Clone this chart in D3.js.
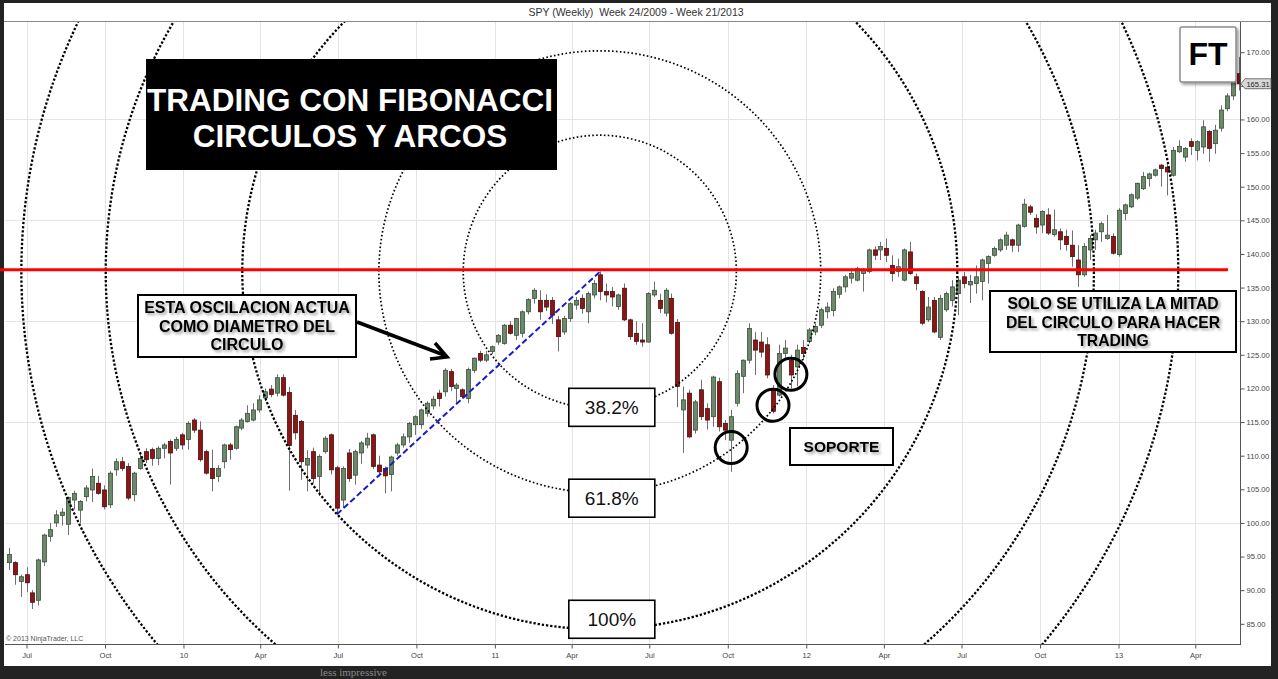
<!DOCTYPE html>
<html>
<head>
<meta charset="utf-8">
<script src="https://cdn.jsdelivr.net/npm/d3@7"></script>
<style>
  html, body { margin: 0; padding: 0; background: #222; }
  svg { display: block; font-family: "Liberation Sans", Arial, sans-serif; }
</style>
</head>
<body>
<script>
// SPY semanal, semana 24/2009 - semana 21/2013
const firstWeek = new Date(2009, 5, 10);
const lastWeek = new Date(2013, 4, 22);

const open = [
  94.1, 94.1, 91.3, 92.3, 89.6, 88.5, 94.2, 98.0, 100.0, 101.1,
  99.8, 103.4, 101.9, 103.9, 104.9, 105.9, 104.9, 102.7, 107.9, 109.1,
  108.4, 104.2, 108.1, 110.6, 110.9, 109.6, 111.1, 112.1, 111.1, 113.1,
  112.4, 115.3, 113.8, 110.6, 108.1, 106.9, 109.1, 111.6, 111.1, 114.1,
  115.1, 115.3, 116.8, 118.6, 119.9, 119.3, 121.6, 119.4, 116.0, 115.1,
  108.6, 110.6, 106.9, 110.6, 113.1, 108.2, 103.4, 110.4, 107.1, 110.4,
  111.6, 113.1, 108.6, 108.1, 107.2, 110.4, 111.6, 112.8, 114.6, 114.6,
  116.3, 117.4, 119.3, 119.5, 122.5, 120.0, 119.8, 118.5, 122.7, 125.2,
  124.2, 125.5, 126.9, 126.7, 129.4, 127.9, 128.2, 131.4, 133.4, 133.1,
  133.1, 133.1, 130.2, 128.4, 130.4, 132.4, 133.4, 131.4, 133.9, 136.9,
  134.4, 134.4, 132.2, 134.9, 130.2, 128.2, 127.2, 126.9, 133.9, 133.1,
  131.2, 133.4, 129.8, 116.8, 119.3, 113.8, 119.8, 117.0, 115.8, 121.0,
  114.8, 112.3, 117.8, 121.8, 124.2, 127.2, 126.9, 126.5, 119.8, 119.0,
  125.2, 124.2, 123.2, 126.1, 127.0, 128.4, 129.4, 131.4, 131.6, 134.0,
  135.1, 136.4, 136.1, 137.1, 137.4, 140.6, 140.6, 140.8, 138.3, 137.4,
  136.1, 140.3, 136.6, 134.4, 130.2, 133.1, 127.6, 131.7, 133.1, 134.1,
  136.6, 135.4, 135.6, 135.9, 138.6, 139.8, 140.6, 141.3, 142.1, 141.3,
  144.1, 147.0, 145.3, 144.3, 145.8, 142.9, 143.3, 142.6, 141.3, 139.1,
  136.9, 140.6, 142.1, 143.3, 142.3, 142.6, 139.9, 146.0, 147.0, 148.3,
  149.7, 151.2, 151.7, 153.2, 152.9, 151.7, 155.2, 154.4, 156.7, 155.4,
  155.9, 158.2, 156.4, 158.7, 161.6, 163.5, 166.8
];
const high = [
  96.3, 94.3, 92.3, 93.4, 90.0, 94.7, 98.4, 100.0, 101.9, 102.2,
  103.9, 104.8, 103.4, 105.6, 108.1, 107.0, 105.6, 107.7, 109.6, 109.8,
  108.9, 107.6, 110.5, 111.1, 111.2, 111.4, 111.9, 112.4, 112.8, 113.4,
  115.1, 115.6, 115.1, 110.9, 110.9, 108.6, 111.8, 111.9, 114.5, 115.6,
  117.5, 117.8, 119.0, 120.0, 120.5, 122.1, 122.1, 120.2, 116.8, 115.3,
  110.8, 111.2, 110.2, 112.9, 113.3, 108.5, 108.4, 111.0, 110.9, 112.2,
  113.4, 113.3, 110.0, 108.4, 110.0, 111.9, 113.3, 115.0, 116.0, 117.0,
  118.1, 118.9, 119.8, 123.0, 122.9, 120.8, 120.0, 123.1, 124.6, 125.6,
  125.6, 126.4, 128.1, 129.6, 130.0, 130.5, 131.6, 133.4, 134.9, 134.6,
  134.0, 133.6, 130.8, 130.8, 132.8, 133.6, 134.0, 134.4, 136.1, 137.4,
  135.6, 135.1, 134.1, 135.6, 130.4, 130.0, 129.7, 134.3, 135.9, 134.1,
  134.9, 134.1, 130.3, 120.3, 119.8, 118.3, 121.3, 117.8, 121.9, 121.6,
  115.3, 116.8, 122.7, 124.3, 129.7, 128.4, 128.4, 127.6, 120.5, 126.5,
  127.2, 125.0, 126.5, 127.2, 129.0, 129.6, 132.0, 132.8, 134.9, 135.3,
  136.9, 137.6, 138.1, 137.9, 140.8, 141.1, 141.8, 142.3, 139.8, 139.3,
  140.8, 141.8, 137.1, 134.6, 133.6, 133.6, 133.9, 134.4, 136.1, 136.6,
  137.3, 136.9, 138.3, 139.3, 139.8, 141.1, 142.3, 143.3, 142.3, 144.5,
  148.2, 147.3, 145.9, 146.5, 146.8, 146.6, 143.8, 143.6, 143.5, 141.3,
  141.6, 142.8, 143.6, 144.8, 145.8, 143.1, 146.8, 147.5, 149.0, 150.6,
  152.2, 152.1, 152.7, 153.4, 153.3, 155.9, 156.9, 155.9, 157.2, 156.9,
  159.9, 158.4, 159.2, 162.1, 163.9, 166.4, 169.3
];
const low = [
  93.0, 90.8, 89.0, 89.7, 87.2, 87.7, 93.6, 97.2, 99.4, 99.6,
  98.2, 102.0, 100.0, 103.2, 103.1, 104.2, 102.0, 102.2, 107.0, 107.7,
  103.4, 103.2, 107.9, 108.9, 108.5, 108.6, 109.6, 105.7, 110.7, 110.9,
  110.9, 113.4, 109.1, 107.2, 104.7, 106.1, 108.1, 109.4, 110.9, 113.8,
  114.9, 115.1, 116.4, 118.1, 118.7, 118.8, 118.8, 104.8, 112.4, 106.4,
  104.7, 105.9, 104.0, 110.3, 107.2, 101.4, 102.2, 106.1, 105.7, 108.8,
  111.1, 108.0, 106.9, 104.4, 104.7, 110.0, 111.2, 111.9, 113.1, 114.0,
  115.8, 116.9, 117.3, 118.8, 119.6, 117.8, 118.5, 117.8, 122.3, 123.9,
  123.9, 125.1, 126.5, 126.5, 128.0, 127.2, 127.6, 131.0, 132.6, 130.2,
  131.5, 129.6, 125.5, 128.0, 129.9, 131.7, 131.1, 129.7, 133.4, 133.1,
  132.8, 132.2, 131.7, 130.0, 127.2, 126.5, 126.2, 126.8, 133.6, 131.2,
  130.7, 128.0, 117.2, 110.4, 112.6, 113.3, 115.3, 113.9, 114.3, 113.6,
  112.3, 107.6, 117.3, 119.3, 123.7, 122.0, 124.6, 121.5, 116.3, 118.8,
  124.2, 120.0, 120.3, 124.2, 126.7, 127.9, 129.0, 130.4, 130.7, 133.4,
  134.3, 135.6, 135.9, 134.4, 137.1, 139.1, 139.1, 138.8, 135.9, 136.6,
  135.9, 136.9, 134.6, 129.4, 129.9, 128.2, 127.2, 131.4, 132.2, 130.9,
  134.9, 132.7, 134.1, 133.1, 135.6, 139.6, 140.3, 140.6, 140.3, 140.3,
  143.9, 145.8, 143.0, 143.1, 142.8, 142.6, 140.6, 140.5, 138.1, 135.1,
  136.6, 139.1, 140.6, 141.8, 142.1, 139.9, 139.6, 145.0, 146.8, 148.0,
  149.5, 150.0, 151.5, 150.0, 148.7, 151.5, 155.0, 153.7, 154.7, 153.9,
  154.9, 153.7, 154.9, 158.2, 161.2, 162.9, 164.3
];
const close = [
  95.3, 92.3, 92.0, 91.1, 88.2, 94.5, 98.2, 99.0, 101.2, 101.6,
  103.8, 104.4, 103.2, 105.2, 106.9, 104.4, 102.4, 107.4, 109.1, 108.1,
  103.7, 107.4, 109.6, 109.4, 109.6, 111.1, 111.6, 110.4, 112.4, 111.6,
  114.8, 113.8, 109.4, 107.4, 106.6, 108.1, 111.6, 110.9, 114.3, 115.3,
  116.3, 116.8, 118.3, 119.5, 119.1, 121.6, 119.0, 111.5, 113.4, 109.1,
  109.6, 106.6, 109.9, 112.6, 107.9, 102.2, 108.1, 106.6, 110.6, 111.9,
  112.6, 108.4, 107.6, 107.0, 109.8, 111.6, 112.8, 114.8, 115.8, 116.8,
  117.8, 118.4, 118.5, 122.7, 120.3, 120.5, 118.8, 122.8, 124.5, 124.2,
  125.0, 126.2, 127.9, 129.4, 128.2, 130.4, 131.4, 133.2, 134.6, 131.4,
  132.1, 130.9, 127.7, 130.4, 132.6, 133.1, 131.9, 134.1, 135.6, 134.4,
  133.9, 133.6, 133.9, 130.2, 127.7, 127.0, 126.9, 134.1, 134.6, 131.9,
  134.6, 128.2, 120.3, 118.3, 112.8, 118.0, 115.8, 115.3, 121.7, 114.3,
  113.8, 115.8, 122.2, 124.2, 128.9, 125.7, 125.4, 122.0, 116.6, 125.2,
  126.0, 122.0, 125.7, 125.2, 128.7, 129.2, 131.7, 132.1, 134.4, 135.1,
  136.6, 137.1, 137.8, 137.6, 140.6, 139.8, 141.1, 139.8, 137.1, 138.1,
  140.6, 137.1, 135.6, 129.7, 132.1, 128.4, 133.4, 134.1, 135.1, 136.1,
  135.6, 135.9, 136.6, 139.1, 139.6, 140.8, 142.1, 142.8, 141.3, 144.3,
  147.4, 146.2, 144.0, 146.3, 143.1, 143.6, 142.1, 141.4, 139.6, 136.9,
  141.1, 142.3, 143.1, 144.5, 142.8, 140.1, 146.5, 147.3, 148.8, 150.5,
  151.5, 151.9, 152.5, 152.7, 152.2, 155.4, 156.0, 155.7, 156.0, 156.7,
  158.9, 155.7, 158.4, 161.4, 163.5, 166.0, 165.31
];

const yTicks = [85, 90, 95, 100, 105, 110, 115, 120, 125, 130, 135, 140, 145, 150, 155, 160, 165, 170];
const yGrid = [100, 115, 130, 145, 160];
const xTickLabels = ["Jul", "Oct", "10", "Apr", "Jul", "Oct", "11", "Apr", "Jul", "Oct", "12", "Apr", "Jul", "Oct", "13", "Apr"];

// oscilacion usada para los circulos (indice de semana, precio)
const swingLow = { i: 55, price: 101.3 };
const swingHigh = { i: 99, price: 137.35 };
const fibLevels = [0.382, 0.618, 1, 1.382, 1.618];
const fibLabels = ["38.2%", "61.8%", "100%"];
const resistance = 137.65;
const lastPrice = 165.31;
const supportPoints = [
  { i: 121, price: 111.2 },
  { i: 128, price: 117.5 },
  { i: 131, price: 122.1 }
];

const W = 1278, H = 679;
const plot = { left: 5, right: 1240, top: 22, bottom: 644 };

const dates = d3.timeWednesday.range(firstWeek, d3.timeDay.offset(lastWeek, 1));
const candles = dates.map((d, i) => ({ date: d, o: open[i], h: high[i], l: low[i], c: close[i] }));

const x = d3.scaleTime()
  .domain([new Date(2009, 6, 1), new Date(2013, 3, 1)])
  .range([26.5, 1195.3]);
const y = d3.scaleLinear().domain([85, 170]).range([623.8, 52.2]);

const xTickDates = d3.timeMonth.every(3).range(new Date(2009, 6, 1), new Date(2013, 3, 2));

const svg = d3.select("body").append("svg")
  .attr("width", W).attr("height", H);

const defs = svg.append("defs");
defs.append("clipPath").attr("id", "plotclip")
  .append("rect")
  .attr("x", plot.left).attr("y", plot.top)
  .attr("width", plot.right - plot.left).attr("height", plot.bottom - plot.top);

const shadow = defs.append("filter").attr("id", "tshadow")
  .attr("x", "-10%").attr("y", "-40%").attr("width", "125%").attr("height", "190%");
shadow.append("feGaussianBlur").attr("in", "SourceAlpha").attr("stdDeviation", 1.6);
shadow.append("feOffset").attr("dx", 1.5).attr("dy", 2).attr("result", "off");
shadow.append("feComponentTransfer").attr("in", "off").attr("result", "soft")
  .append("feFuncA").attr("type", "linear").attr("slope", 0.4);
const merge = shadow.append("feMerge");
merge.append("feMergeNode").attr("in", "soft");
merge.append("feMergeNode").attr("in", "SourceGraphic");

// fondo oscuro + panel blanco
svg.append("rect").attr("width", W).attr("height", H).attr("fill", "#232323");
svg.append("rect").attr("x", 4).attr("y", 3).attr("width", 1267).attr("height", 663).attr("fill", "#fff");

// titulo
svg.append("text")
  .attr("x", 636).attr("y", 16)
  .attr("text-anchor", "middle")
  .attr("font-size", 10.5).attr("fill", "#333")
  .text("SPY (Weekly)\u00a0 Week 24/2009 - Week 21/2013");
svg.append("line")
  .attr("x1", 4).attr("x2", 1271).attr("y1", 21.5).attr("y2", 21.5)
  .attr("stroke", "#8a8a8a");

// rejilla
const grid = svg.append("g").attr("stroke", "#e4e4e4").attr("stroke-width", 1);
grid.selectAll(".vg").data(xTickDates).enter().append("line")
  .attr("x1", d => Math.round(x(d)) + 0.5).attr("x2", d => Math.round(x(d)) + 0.5)
  .attr("y1", plot.top).attr("y2", plot.bottom);
grid.selectAll(".hg").data(yGrid).enter().append("line")
  .attr("x1", plot.left).attr("x2", plot.right)
  .attr("y1", d => Math.round(y(d)) + 0.5).attr("y2", d => Math.round(y(d)) + 0.5);

// velas
const cg = svg.append("g").attr("clip-path", "url(#plotclip)");
const bw = 4;
cg.selectAll(".wick").data(candles).enter().append("line")
  .attr("x1", d => Math.round(x(d.date)) + 0.5)
  .attr("x2", d => Math.round(x(d.date)) + 0.5)
  .attr("y1", d => y(d.h)).attr("y2", d => y(d.l))
  .attr("stroke", "#6f6f6f").attr("stroke-width", 1);
cg.selectAll(".body").data(candles).enter().append("rect")
  .attr("x", d => Math.round(x(d.date)) - bw / 2 + 0.5)
  .attr("y", d => y(Math.max(d.o, d.c)))
  .attr("width", bw)
  .attr("height", d => Math.max(1, Math.abs(y(d.o) - y(d.c))))
  .attr("fill", d => d.c >= d.o ? "#6a8a6a" : "#8a1717")
  .attr("stroke", d => d.c >= d.o ? "#3c4c3c" : "#4c0d0d")
  .attr("stroke-width", 0.8);

// circulos de Fibonacci
const cx = x(dates[swingHigh.i]), cy = y(swingHigh.price);
const lx = x(dates[swingLow.i]), ly = y(swingLow.price);
const r100 = Math.hypot(cx - lx, cy - ly);
const fg = svg.append("g").attr("clip-path", "url(#plotclip)").attr("fill", "none");
fg.selectAll("circle").data(fibLevels).enter().append("circle")
  .attr("cx", cx).attr("cy", cy)
  .attr("r", d => r100 * d)
  .attr("stroke", "#000")
  .attr("stroke-width", d => d < 1 ? 1.7 : 2.3)
  .attr("stroke-dasharray", d => d < 1 ? "1.6,2.3" : "2.3,1.9");

// linea de oscilacion (diametro)
svg.append("line")
  .attr("x1", lx).attr("y1", ly).attr("x2", cx).attr("y2", cy)
  .attr("stroke", "#1a1acc").attr("stroke-width", 2)
  .attr("stroke-dasharray", "6,3");

// resistencia
svg.append("line")
  .attr("x1", 0).attr("x2", 1228)
  .attr("y1", y(resistance)).attr("y2", y(resistance))
  .attr("stroke", "#ff0000").attr("stroke-width", 3);

// ejes
svg.append("line")
  .attr("x1", plot.right + 0.5).attr("x2", plot.right + 0.5)
  .attr("y1", plot.top).attr("y2", plot.bottom)
  .attr("stroke", "#555");
svg.append("line")
  .attr("x1", plot.left).attr("x2", plot.right + 1)
  .attr("y1", plot.bottom + 0.5).attr("y2", plot.bottom + 0.5)
  .attr("stroke", "#555");

const yAxis = svg.append("g")
  .attr("transform", `translate(${plot.right + 0.5},0)`)
  .call(d3.axisRight(y).tickValues(yTicks).tickFormat(d3.format(".2f")).tickSize(4).tickPadding(2));
yAxis.select(".domain").remove();
yAxis.selectAll("line").attr("stroke", "#555");
yAxis.selectAll("text").attr("font-size", 7.6).attr("fill", "#444")
  .attr("font-family", "Liberation Sans, Arial, sans-serif");

const xAxis = svg.append("g")
  .attr("transform", `translate(0,${plot.bottom + 0.5})`)
  .call(d3.axisBottom(x).tickValues(xTickDates).tickFormat((d, i) => xTickLabels[i]).tickSize(4).tickPadding(4));
xAxis.select(".domain").remove();
xAxis.selectAll("line").attr("stroke", "#555");
xAxis.selectAll("text").attr("font-size", 7.6).attr("fill", "#444")
  .attr("font-family", "Liberation Sans, Arial, sans-serif");

// marcador de ultimo precio
const py = y(lastPrice);
svg.append("path")
  .attr("d", `M${plot.right + 1},${py} L${plot.right + 5},${py - 5} L1271,${py - 5} L1271,${py + 5} L${plot.right + 5},${py + 5} Z`)
  .attr("fill", "#d8d8d8").attr("stroke", "#555").attr("stroke-width", 0.8);
svg.append("text")
  .attr("x", 1258).attr("y", py + 2.8)
  .attr("text-anchor", "middle").attr("font-size", 7.6).attr("fill", "#222")
  .text(d3.format(".2f")(lastPrice));

// copyright
svg.append("text")
  .attr("x", 6).attr("y", 641)
  .attr("font-size", 7).attr("fill", "#555")
  .text("\u00a9 2013 NinjaTrader, LLC");

// logo FT
svg.append("rect")
  .attr("x", 1180).attr("y", 27).attr("width", 56).attr("height", 55).attr("rx", 2)
  .attr("fill", "#fff").attr("stroke", "#8c8c8c").attr("stroke-width", 1.5)
  .attr("filter", "url(#tshadow)");
svg.append("text")
  .attr("x", 1208).attr("y", 65)
  .attr("text-anchor", "middle")
  .attr("font-size", 32).attr("font-weight", "bold").attr("fill", "#000")
  .text("FT");

// titulo negro
svg.append("rect").attr("x", 146).attr("y", 59).attr("width", 411).attr("height", 111).attr("fill", "#000");
const titleLines = ["TRADING CON FIBONACCI", "CIRCULOS Y ARCOS"];
svg.selectAll(".tl").data(titleLines).enter().append("text")
  .attr("x", 350).attr("y", (d, i) => 111 + i * 36)
  .attr("text-anchor", "middle")
  .attr("font-size", 31.5).attr("font-weight", "bold").attr("fill", "#fff")
  .text(d => d);

// cajas de texto
function noteBox(bx, by, bw2, bh, lines, fs, lineH, firstBase) {
  svg.append("rect")
    .attr("x", bx).attr("y", by).attr("width", bw2).attr("height", bh)
    .attr("fill", "#fff").attr("stroke", "#000").attr("stroke-width", 2);
  svg.append("g").attr("filter", "url(#tshadow)")
    .selectAll("text").data(lines).enter().append("text")
    .attr("x", bx + bw2 / 2).attr("y", (d, i) => firstBase + i * lineH)
    .attr("text-anchor", "middle")
    .attr("font-size", fs).attr("font-weight", "bold").attr("fill", "#000")
    .text(d => d);
}
noteBox(138, 295, 218, 62, ["ESTA OSCILACION ACTUA", "COMO DIAMETRO DEL", "CIRCULO"], 16, 18.5, 313);
noteBox(790, 428, 103, 37, ["SOPORTE"], 15.5, 18, 452);
noteBox(990, 291, 246, 61, ["SOLO SE UTILIZA LA MITAD", "DEL CIRCULO PARA HACER", "TRADING"], 15.7, 18.5, 309);

// flecha
svg.append("line")
  .attr("x1", 357).attr("y1", 322).attr("x2", 444).attr("y2", 355)
  .attr("stroke", "#000").attr("stroke-width", 3.5);
svg.append("polyline")
  .attr("points", "435,343 447,357 430,359")
  .attr("fill", "none").attr("stroke", "#000").attr("stroke-width", 3.5)
  .attr("stroke-linejoin", "miter");

// etiquetas de niveles
const labelShift = [-1, 5.5, -10];
fibLabels.forEach((t, i) => {
  const ly2 = cy + r100 * fibLevels[i] + labelShift[i];
  const bx = cx + 12 - 43;
  svg.append("rect")
    .attr("x", bx).attr("y", ly2 - 19).attr("width", 86).attr("height", 38)
    .attr("fill", "#fff").attr("stroke", "#000").attr("stroke-width", 1.6);
  svg.append("text")
    .attr("x", bx + 43).attr("y", ly2 + 7)
    .attr("text-anchor", "middle")
    .attr("font-size", 19).attr("fill", "#111")
    .text(t);
});

// circulos de soporte
svg.selectAll(".sp").data(supportPoints).enter().append("circle")
  .attr("cx", d => x(dates[d.i])).attr("cy", d => y(d.price))
  .attr("r", 16)
  .attr("fill", "none").attr("stroke", "#000").attr("stroke-width", 3);

// texto residual en el borde inferior
svg.append("text")
  .attr("x", 320).attr("y", 676)
  .attr("font-size", 11).attr("fill", "#8a8a8a")
  .attr("font-family", "Liberation Serif, serif")
  .text("less impressive");
</script>
</body>
</html>
